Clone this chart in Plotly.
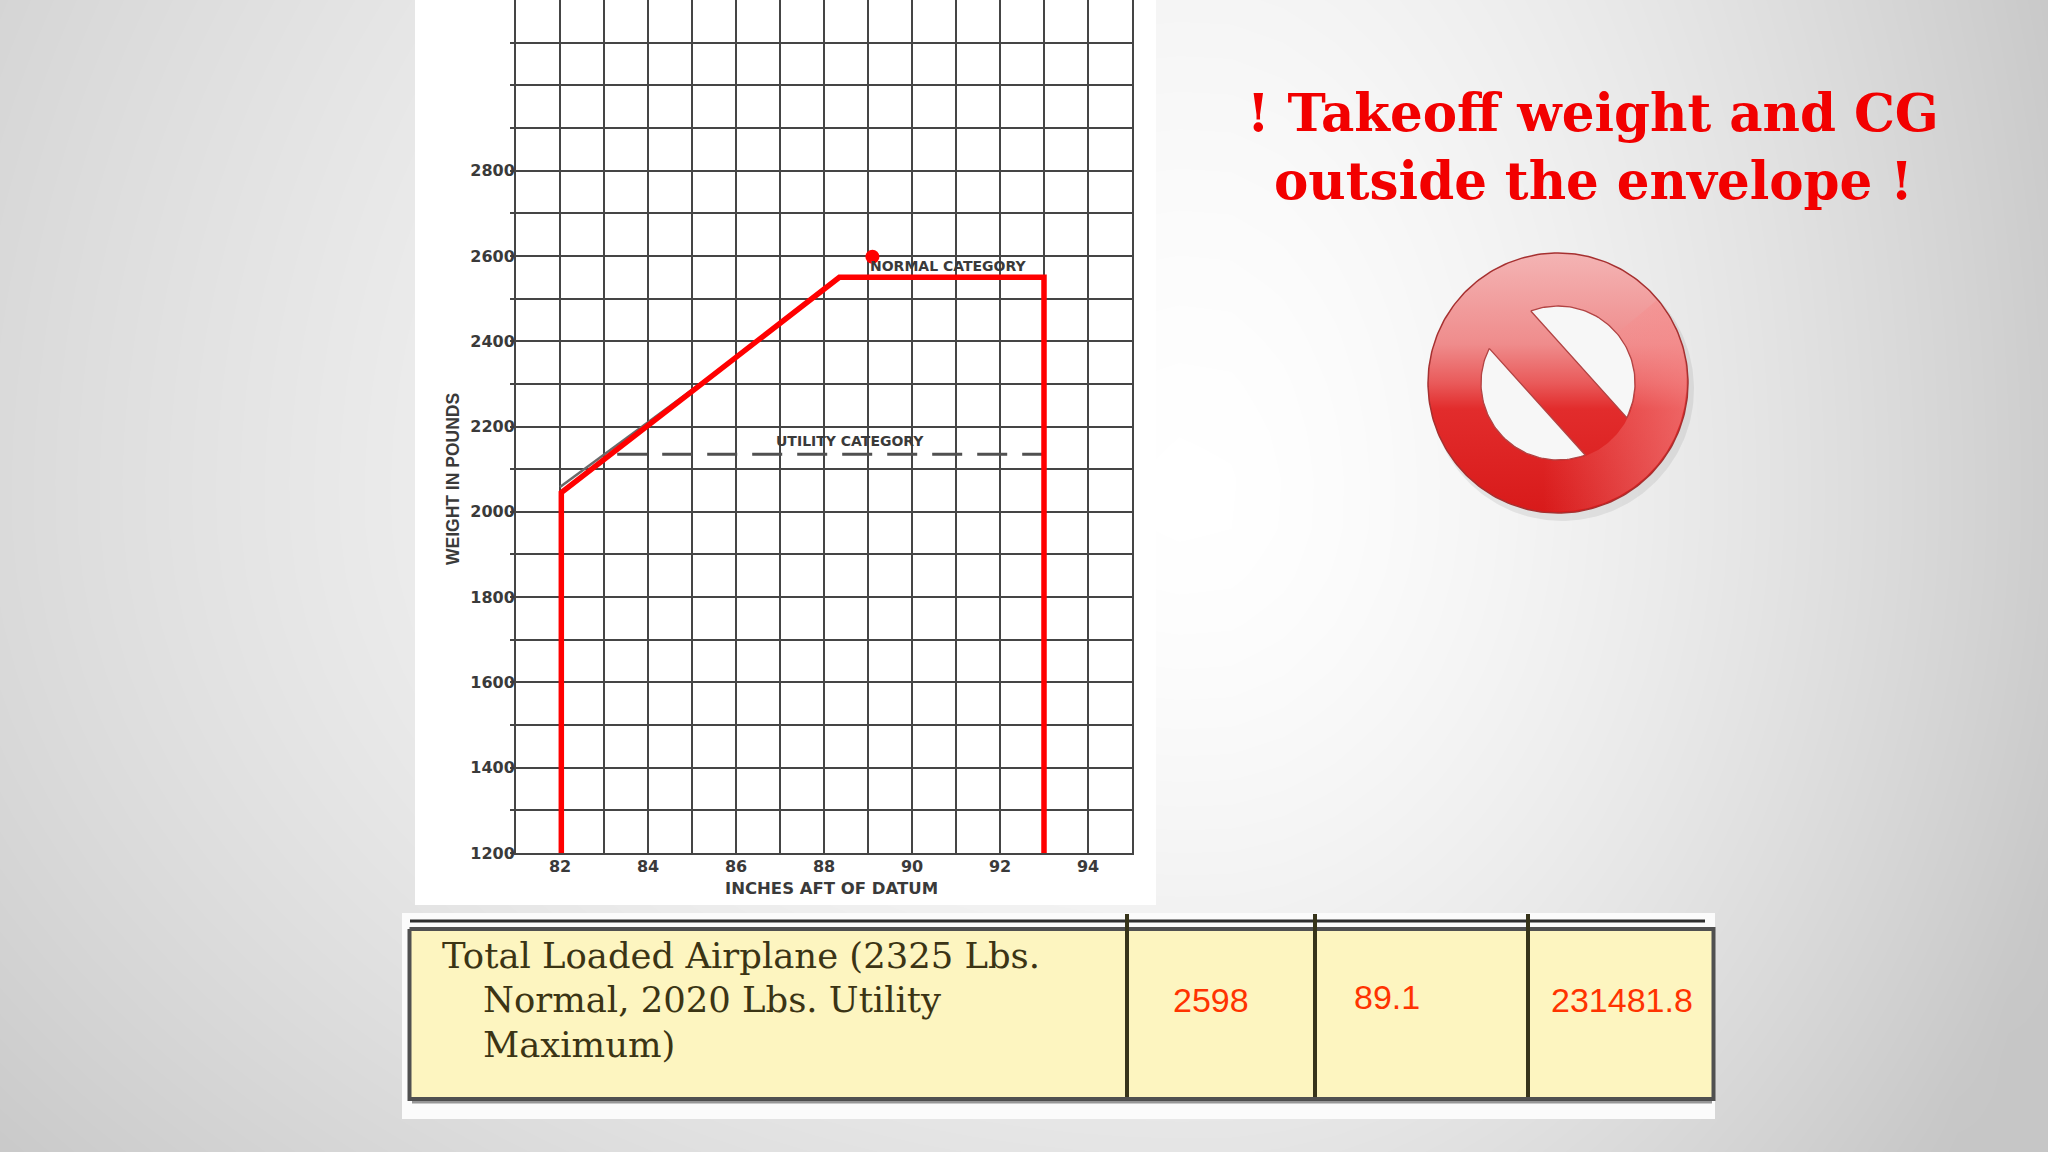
import numpy as np
import plotly.graph_objects as go

W, H = 2048, 1152

# ---------------- data ----------------
ENV_CG = [82.03, 82.03, 88.35, 93.0, 93.0]          # red envelope (inches aft of datum)
ENV_WT = [1200, 2045, 2550, 2550, 1200]             # red envelope (lbs)
PRINTED_ENV_CG = [82.0, 86.0]                        # printed (grey) envelope edge
PRINTED_ENV_WT = [2058, 2362]
UTIL_CG = [83.3, 93.0]                               # utility category limit (dashed)
UTIL_WT = [2135, 2135]
TAKEOFF_CG = [89.1]
TAKEOFF_WT = [2598]

X_TICKS = list(range(81, 96))
X_LABELS = [str(v) if v % 2 == 0 else "" for v in X_TICKS]
Y_TICKS = list(range(1200, 3200, 100))
Y_LABELS = [str(v) if (v % 200 == 0 and v <= 2800) else "" for v in Y_TICKS]

TABLE_LABEL = ["Total Loaded Airplane (2325 Lbs.", "Normal, 2020 Lbs. Utility", "Maximum)"]
TABLE_VALUES = ["2598", "89.1", "231481.8"]
TITLE_LINES = ["! Takeoff weight and CG", "outside the envelope !"]

# ---------------- figure ----------------
fig = go.Figure()

# slide background (soft radial grey gradient)
gx = np.linspace(-64, W + 64, 43)
gy = np.linspace(-48, H + 48, 27)
GX, GY = np.meshgrid(gx, gy)
cx, cy = 1200, 500
sx = np.where(GX > cx, 850.0, 1467.0)
sy = np.where(GY > cy, 1000.0, 1450.0)
r2 = ((GX - cx) / sx) ** 2 + ((GY - cy) / sy) ** 2
Z = np.clip(255 - 50 * r2 ** 0.75, 198, 255)
fig.add_trace(go.Heatmap(x=gx, y=gy, z=Z, zmin=0, zmax=255, zsmooth="best",
                         colorscale=[[0, "rgb(0,0,0)"], [1, "rgb(255,255,255)"]],
                         showscale=False, hoverinfo="skip", xaxis="x", yaxis="y"))


def rect(x0, y0, x1, y1, fill, line_color=None, line_width=0):
    fig.add_trace(go.Scatter(x=[x0, x1, x1, x0, x0], y=[y0, y0, y1, y1, y0], mode="lines",
                             fill="toself", fillcolor=fill,
                             line=dict(color=line_color or fill, width=line_width),
                             hoverinfo="skip", showlegend=False, xaxis="x", yaxis="y"))


def seg(xs, ys, color, width):
    fig.add_trace(go.Scatter(x=xs, y=ys, mode="lines", line=dict(color=color, width=width),
                             hoverinfo="skip", showlegend=False, xaxis="x", yaxis="y"))


def poly(xs, ys, fill, line_color=None, line_width=0, gradient=None):
    xs = np.append(xs, xs[0])
    ys = np.append(ys, ys[0])
    kw = dict(fillgradient=gradient) if gradient else dict(fillcolor=fill)
    fig.add_trace(go.Scatter(x=xs, y=ys, mode="lines", fill="toself",
                             line=dict(color=line_color or "rgba(0,0,0,0)", width=line_width),
                             hoverinfo="skip", showlegend=False, xaxis="x", yaxis="y", **kw))


# white chart panel
rect(415, 0, 1156, 905, "#ffffff")
# table
rect(402, 913, 1715, 1119, "#fbfbfb")
seg([410, 1705], [921, 921], "#2e2e2e", 3)
rect(409.5, 929, 1713.5, 1099, "#fdf5c0", "#505050", 4)
seg([412, 1712], [1102, 1102], "rgba(70,70,70,0.55)", 3)
for xv in (1127, 1315, 1528):
    seg([xv, xv], [914, 1097], "#37341a", 4)

# prohibition icon
ICX, ICY, R_OUT, R_IN, BAR_W, BAR_ANG = 1558, 383, 130, 77, 56, 48
t = np.linspace(0, 2 * np.pi, 241)
poly(ICX + 4 + (R_OUT + 2) * np.cos(t), ICY + 6 + (R_OUT + 2) * np.sin(t), "rgba(0,0,0,0.07)")
poly(ICX + R_OUT * np.cos(t), ICY + R_OUT * np.sin(t), None, "#a63030", 1.5,
     gradient=dict(type="vertical", start=ICY - R_OUT, stop=ICY + R_OUT,
                   colorscale=[[0, "#f4b4b4"], [0.35, "#ef8c8c"], [0.5, "#e95a5a"],
                               [0.6, "#e22c2c"], [1, "#d81a1a"]]))
# soft pink reflection on the lower-right part of the ring
ang = np.radians(np.linspace(-40, 105, 120))
rx = np.concatenate([ICX + 128.5 * np.cos(ang), ICX + 78 * np.cos(ang[::-1])])
ry = np.concatenate([ICY + 128.5 * np.sin(ang), ICY + 78 * np.sin(ang[::-1])])
poly(rx, ry, None, gradient=dict(type="horizontal", start=ICX - 15, stop=ICX + R_OUT,
                                 colorscale=[[0, "rgba(246,140,140,0)"],
                                             [1, "rgba(246,140,140,0.6)"]]))
th = np.radians(BAR_ANG)
u = np.array([np.cos(th), np.sin(th)])
nv = np.array([-np.sin(th), np.cos(th)])
a = np.arccos((BAR_W / 2) / R_IN)
al = np.linspace(-a, a, 80)
for s in (1, -1):
    px = ICX + s * R_IN * np.cos(al) * nv[0] + R_IN * np.sin(al) * u[0]
    py = ICY + s * R_IN * np.cos(al) * nv[1] + R_IN * np.sin(al) * u[1]
    poly(px, py, "#f7f7f7", "#b24444", 1.3)

# ---------------- CG envelope chart ----------------
fig.add_trace(go.Scatter(x=PRINTED_ENV_CG, y=PRINTED_ENV_WT, mode="lines",
                         line=dict(color="#6a6a6a", width=2.5),
                         hoverinfo="skip", showlegend=False, xaxis="x2", yaxis="y2"))
fig.add_trace(go.Scatter(x=UTIL_CG, y=UTIL_WT, mode="lines",
                         line=dict(color="#505050", width=3, dash="30px,15px"),
                         hoverinfo="skip", showlegend=False, xaxis="x2", yaxis="y2"))
fig.add_trace(go.Scatter(x=ENV_CG, y=ENV_WT, mode="lines",
                         line=dict(color="#ff0000", width=5.5),
                         hoverinfo="skip", showlegend=False, xaxis="x2", yaxis="y2"))
fig.add_trace(go.Scatter(x=TAKEOFF_CG, y=TAKEOFF_WT, mode="markers",
                         marker=dict(color="#ff0000", size=14),
                         hoverinfo="skip", showlegend=False, xaxis="x2", yaxis="y2"))

GRID = "#454545"
tick_font = dict(family="DejaVu Sans", size=16, color="#3a3a3a", weight="bold")

annotations = [
    dict(text="NORMAL CATEGORY", x=90.84, y=2577, xref="x2", yref="y2", showarrow=False,
         font=dict(family="DejaVu Sans", size=14, color="#3a3a3a", weight="bold")),
    dict(text="UTILITY CATEGORY", x=88.58, y=2165, xref="x2", yref="y2", showarrow=False,
         font=dict(family="DejaVu Sans", size=14, color="#3a3a3a", weight="bold")),
    dict(text="WEIGHT IN POUNDS", x=453, y=479, xref="x", yref="y", showarrow=False, textangle=-90,
         font=dict(family="Liberation Sans", size=17.5, color="#3a3a3a", weight="bold")),
    dict(text="INCHES AFT OF DATUM", x=831, y=888, xref="x", yref="y", showarrow=False,
         font=dict(family="DejaVu Sans", size=16.5, color="#3a3a3a", weight="bold")),
]
# title
for txt, yy in zip(TITLE_LINES, [113, 181]):
    annotations.append(dict(text=txt, x=1593, y=yy, xref="x", yref="y", showarrow=False,
                            xanchor="center", yanchor="middle",
                            font=dict(family="DejaVu Serif", size=51.5, color="#f20000", weight="bold")))
# table row label
for txt, xx, yy in zip(TABLE_LABEL, [440, 481, 481], [955, 999, 1044]):
    annotations.append(dict(text=txt, x=xx, y=yy, xref="x", yref="y", showarrow=False,
                            xanchor="left", yanchor="middle",
                            font=dict(family="DejaVu Serif", size=35.4, color="#3b3414")))
# handwritten values
for txt, xx, yy in zip(TABLE_VALUES, [1211, 1387, 1622], [1000, 997, 1000]):
    annotations.append(dict(text=txt, x=xx, y=yy, xref="x", yref="y", showarrow=False,
                            xanchor="center", yanchor="middle",
                            font=dict(family="Liberation Sans", size=34, color="#ff3300")))

fig.update_layout(
    width=W, height=H, margin=dict(l=0, r=0, t=0, b=0, pad=0, autoexpand=False),
    paper_bgcolor="#d9d9d9", plot_bgcolor="rgba(0,0,0,0)",
    showlegend=False,
    xaxis=dict(domain=[0, 1], range=[0, W], visible=False, fixedrange=True, automargin=False),
    yaxis=dict(domain=[0, 1], range=[H, 0], visible=False, fixedrange=True, automargin=False),
    xaxis2=dict(domain=[516 / W, 1132 / W], range=[81, 95], anchor="y2", automargin=False,
                tickmode="array", tickvals=X_TICKS, ticktext=X_LABELS, ticks="",
                ticklabelstandoff=-2,
                showgrid=True, gridcolor=GRID, gridwidth=1.7, zeroline=False,
                showline=True, linecolor=GRID, linewidth=2, mirror=False,
                tickfont=tick_font, fixedrange=True),
    yaxis2=dict(domain=[1 - 853 / H, 1], range=[1200, 3200], anchor="x2", automargin=False,
                tickmode="array", tickvals=Y_TICKS, ticktext=Y_LABELS,
                ticks="outside", ticklen=4, tickwidth=2, tickcolor=GRID, ticklabelstandoff=-8,
                showgrid=True, gridcolor=GRID, gridwidth=1.7, zeroline=False,
                showline=True, linecolor=GRID, linewidth=2, mirror=True,
                tickfont=tick_font, fixedrange=True),
    annotations=annotations,
)

fig.write_html("out.html", config={"displayModeBar": False},
               post_script="document.body.style.margin='0';document.body.style.overflow='hidden';")
